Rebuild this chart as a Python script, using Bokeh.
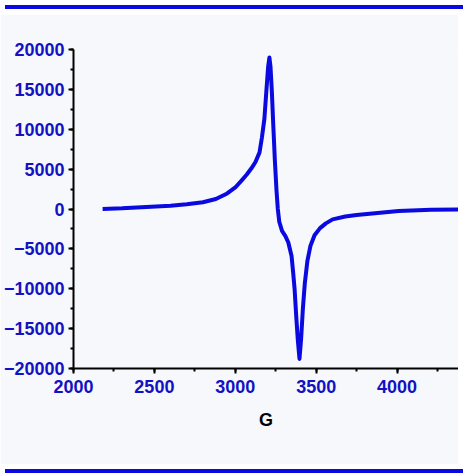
from bokeh.plotting import figure
from bokeh.models import Range1d, SingleIntervalTicker, BasicTickFormatter, Div
from bokeh.layouts import column
from bokeh.embed import file_html
from bokeh.resources import INLINE

# EPR spectrum: magnetic field (G) vs intensity
field_G = [2180, 2300, 2450, 2600, 2700, 2800, 2880, 2950, 3000, 3040,
           3070, 3100, 3125, 3150, 3165, 3180, 3193, 3203, 3211, 3218,
           3226, 3235, 3245, 3255, 3263, 3272, 3289, 3310, 3328, 3348,
           3358, 3367, 3377, 3387, 3397, 3407, 3418, 3430, 3446, 3465,
           3490, 3524, 3560, 3602, 3680, 3750, 3880, 4010, 4210, 4450]
intensity = [0, 80, 250, 420, 600, 850, 1250, 1950, 2700, 3600,
             4300, 5100, 5900, 7100, 9000, 11300, 15000, 17800, 19000, 17800,
             14800, 10500, 6000, 2300, 0, -1600, -2750, -3400, -4200, -5900,
             -8000, -10100, -13500, -16500, -18800, -16300, -12500, -9300, -6500, -4600,
             -3300, -2400, -1800, -1300, -950, -750, -500, -250, -100, -50]

x_label = "G"
x_tick_step = 500
y_tick_step = 5000

BLUE_TXT = "#1212c4"
BLUE_LINE = "#0a0ae0"
BG = "#f6f8fc"

p = figure(width=458, height=450, output_backend="svg", toolbar_location=None,
           x_range=Range1d(2000, 4380), y_range=Range1d(-20000, 20000),
           min_border_left=0, min_border_right=0, min_border_top=35,
           min_border_bottom=96)
p.line(field_G, intensity, line_color=BLUE_LINE, line_width=4, line_join="round")

p.background_fill_color = BG
p.border_fill_color = BG
p.outline_line_color = None
p.grid.visible = False

for ax in (p.xaxis[0], p.yaxis[0]):
    ax.axis_line_color = "black"
    ax.axis_line_width = 2
    ax.major_tick_line_color = "black"
    ax.major_tick_line_width = 2
    ax.minor_tick_line_color = "black"
    ax.minor_tick_line_width = 2
    ax.major_tick_in = 0
    ax.major_tick_out = 5
    ax.minor_tick_in = 0
    ax.minor_tick_out = 3
    ax.major_label_text_font = "Liberation Sans"
    ax.major_label_text_font_style = "bold"
    ax.major_label_text_font_size = "18px"
    ax.major_label_text_color = BLUE_TXT
    ax.major_label_standoff = 4

p.xaxis.major_label_standoff = 6
p.xaxis.ticker = SingleIntervalTicker(interval=x_tick_step, num_minor_ticks=2)
p.yaxis.ticker = SingleIntervalTicker(interval=y_tick_step, num_minor_ticks=2)
p.yaxis.formatter = BasicTickFormatter(use_scientific=False)

p.xaxis.axis_label = x_label
p.xaxis.axis_label_text_font = "Liberation Sans"
p.xaxis.axis_label_text_font_style = "bold"
p.xaxis.axis_label_text_font_size = "18px"
p.xaxis.axis_label_text_color = "black"
p.xaxis.axis_label_standoff = 14

top_bar = Div(text="", width=458, height=4, styles={"background-color": BLUE_LINE})
bottom_bar = Div(text="", width=458, height=4, styles={"background-color": BLUE_LINE})

layout = column(top_bar, p, bottom_bar, spacing=0)

open("out.html", "w").write(file_html(layout, INLINE))
